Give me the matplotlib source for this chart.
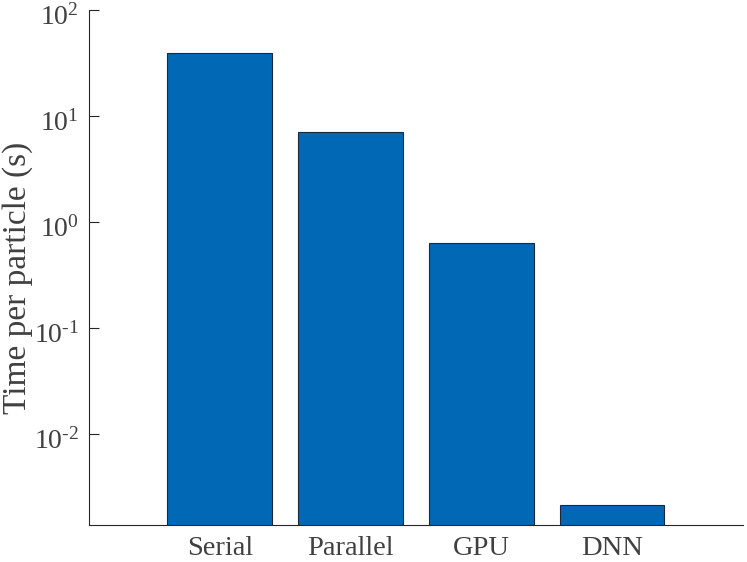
import matplotlib
matplotlib.use('Agg')
import matplotlib.pyplot as plt
import matplotlib.transforms as mtransforms
import numpy as np

# bar data
methods = ['Serial', 'Parallel', 'GPU', 'DNN']
time_per_particle = [39.3, 7.16, 0.643, 0.00214]
exponents = ['-2', '-1', '0', '1', '2']

plt.rcParams['font.family'] = 'Liberation Serif'
plt.rcParams['mathtext.fontset'] = 'custom'
plt.rcParams['mathtext.rm'] = 'Liberation Serif'
plt.rcParams['mathtext.it'] = 'Liberation Serif:italic'

axcol = '#262626'
txtcol = '#404040'

fig = plt.figure(figsize=(7.47, 5.62), dpi=100)
ax = fig.add_axes([0.119, 0.0653, 0.8756, 0.9164])

x = np.arange(1, len(methods) + 1)
ax.bar(x, time_per_particle, width=0.8, color='#0068B5', edgecolor='#1a2a3a', linewidth=0.8, zorder=2)

ax.set_yscale('log')
ax.set_ylim(10 ** -2.86, 100)
ax.set_xlim(0, 5)
ax.set_xticks(x)
ax.set_xticklabels(methods)
ax.set_yticks([10.0 ** int(e) for e in exponents])
# hyphen-style minus like the original
ax.set_yticklabels([r'$\mathregular{10^{\text{%s}}}$' % e for e in exponents])
ax.yaxis.set_minor_locator(matplotlib.ticker.NullLocator())

for s in ['top', 'right']:
    ax.spines[s].set_visible(False)
for s in ['left', 'bottom']:
    ax.spines[s].set_color(axcol)
    ax.spines[s].set_linewidth(0.8)

ax.tick_params(direction='in', length=7, width=0.8, color=axcol, labelcolor=txtcol)
ax.tick_params(axis='x', pad=8, labelsize=20.5)
ax.tick_params(axis='y', pad=7, labelsize=20)
ax.set_ylabel('Time per particle (s)', fontsize=24, color=txtcol)
ax.yaxis.set_label_coords(-0.085, 0.48)

# nudge y tick labels down a bit (matlab centres the whole 10^n block)
shift = mtransforms.ScaledTranslation(0, -4 / 100, fig.dpi_scale_trans)
for lbl in ax.get_yticklabels():
    lbl.set_transform(lbl.get_transform() + shift)

fig.savefig('out.png', dpi=100)
